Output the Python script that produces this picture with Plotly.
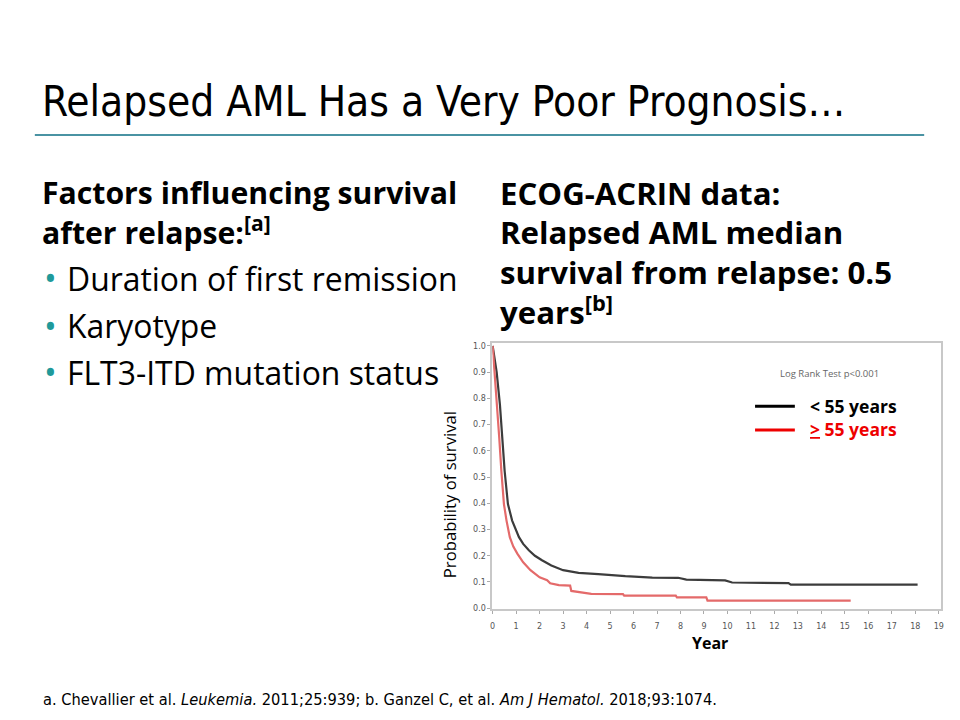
import plotly.graph_objects as go

# ---- data ----
years_lt55 = [0, 0.08, 0.17, 0.31, 0.41, 0.51, 0.65, 0.83, 1.12, 1.3, 1.54, 1.8, 2.1, 2.5, 3.0, 3.66, 4.5, 5.0, 5.65, 6.8, 7.9, 8.25, 9.9, 10.2, 12.6, 12.7, 18.1]
surv_lt55 = [1.0, 0.95, 0.90, 0.775, 0.65, 0.523, 0.397, 0.334, 0.271, 0.245, 0.221, 0.2, 0.183, 0.163, 0.145, 0.135, 0.13, 0.126, 0.122, 0.117, 0.116, 0.109, 0.106, 0.098, 0.096, 0.09, 0.09]

years_ge55 = [0, 0.085, 0.2, 0.28, 0.37, 0.48, 0.59, 0.73, 0.88, 1.05, 1.3, 1.61, 2.0, 2.32, 2.45, 2.82, 3.3, 3.35, 4.2, 5.55, 5.6, 7.8, 7.85, 9.1, 9.15, 15.25]
surv_ge55 = [1.0, 0.90, 0.775, 0.65, 0.523, 0.397, 0.334, 0.271, 0.235, 0.208, 0.175, 0.145, 0.118, 0.107, 0.095, 0.088, 0.086, 0.066, 0.055, 0.054, 0.048, 0.048, 0.041, 0.041, 0.029, 0.029]

x_ticks = list(range(0, 20))
y_ticks = [round(v * 0.1, 1) for v in range(0, 11)]

series_names = ["< 55 years", "<u>></u> 55 years"]
series_colors = ["#3c3c3c", "#e46a6a"]
legend_colors = ["#000000", "#ee0000"]

W, H = 960, 720


def px(x):
    return x / W


def py(y):
    return 1 - y / H


fig = go.Figure()
fig.add_trace(go.Scatter(x=years_lt55, y=surv_lt55, mode="lines",
                         line=dict(color=series_colors[0], width=2.2),
                         showlegend=False, hoverinfo="skip"))
fig.add_trace(go.Scatter(x=years_ge55, y=surv_ge55, mode="lines",
                         line=dict(color=series_colors[1], width=2.2),
                         showlegend=False, hoverinfo="skip"))

body_font = "Open Sans, Noto Sans, sans-serif"
narrow_font = "Liberation Sans Narrow, DejaVu Sans Condensed, sans-serif"

annotations = []


def add_text(text, x, y, size, color="#000000", family=body_font, xanchor="left", bold=False, angle=0):
    if bold:
        text = "<b>" + text + "</b>"
    annotations.append(dict(text=text, x=px(x), y=py(y), xref="paper", yref="paper",
                            xanchor=xanchor, yanchor="middle", showarrow=False,
                            textangle=angle,
                            font=dict(family=family, size=size, color=color)))


# Title
add_text("Relapsed AML Has a Very Poor Prognosis…", 38, 101, 42, family=narrow_font)

# Left heading
add_text("Factors influencing survival", 38, 193, 30.2, bold=True)
add_text("after relapse:<sup>[a]</sup>", 38, 231, 30.2, bold=True)

bullets = ["Duration of first remission", "Karyotype", "FLT3-ITD mutation status"]
bullet_y = [279, 327, 374]
for t, yy in zip(bullets, bullet_y):
    add_text("•", 40, yy, 34, color="#1f9a9a")
    add_text(t, 63, yy, 31.9)

# Right heading
right_lines = ["ECOG-ACRIN data:", "Relapsed AML median", "survival from relapse: 0.5", "years<sup>[b]</sup>"]
right_y = [193, 233, 273, 312]
for t, yy in zip(right_lines, right_y):
    add_text(t, 499, yy, 31.2, bold=True)

# Axis titles
add_text("Probability of survival", 450, 497, 16.7, angle=-90, xanchor="center")
add_text("Year", 712, 646, 16, bold=True, xanchor="center")

# Log rank text
add_text("Log Rank Test p<0.001", 832, 375, 9.5, color="#666666", xanchor="center")

# Legend text
add_text(series_names[0], 810, 408, 17.5, color=legend_colors[0], bold=True)
add_text(series_names[1], 810, 431, 17.5, color=legend_colors[1], bold=True)

# Footnote
add_text("a. Chevallier et al. <i>Leukemia.</i> 2011;25:939; b. Ganzel C, et al. <i>Am J Hematol.</i> 2018;93:1074.",
         39, 703, 16.3, family=narrow_font)

shapes = [
    dict(type="line", xref="paper", yref="paper", x0=px(33), x1=px(927), y0=py(135), y1=py(135),
         line=dict(color="#4a93a3", width=2)),
    dict(type="line", xref="paper", yref="paper", x0=px(757), x1=px(797), y0=py(408), y1=py(408),
         line=dict(color=legend_colors[0], width=3)),
    dict(type="line", xref="paper", yref="paper", x0=px(757), x1=px(797), y0=py(432), y1=py(432),
         line=dict(color=legend_colors[1], width=3)),
]

tick_font = dict(family="DejaVu Sans, sans-serif", size=8, color="#555555")

fig.update_layout(
    width=W, height=H,
    margin=dict(l=0, r=0, t=0, b=0),
    paper_bgcolor="white", plot_bgcolor="white",
    showlegend=False,
    annotations=annotations,
    shapes=shapes,
    xaxis=dict(domain=[px(493), px(944)], range=[-0.01, 19.1],
               tickvals=x_ticks, ticktext=[str(v) for v in x_ticks],
               showgrid=False, zeroline=False,
               showline=True, mirror=True, linecolor="#c8c8c8", linewidth=2,
               ticks="outside", ticklen=3, tickcolor="#aaaaaa",
               ticklabelstandoff=6,
               tickfont=tick_font),
    yaxis=dict(domain=[py(612), py(344)], range=[-0.002, 1.0125],
               tickvals=y_ticks, ticktext=["%.1f" % v for v in y_ticks],
               showgrid=False, zeroline=False,
               showline=True, mirror=True, linecolor="#c8c8c8", linewidth=2,
               ticks="outside", ticklen=3, tickcolor="#aaaaaa",
               tickfont=tick_font),
)

fig.write_html("out.html", config={"displayModeBar": False},
               post_script="document.body.style.margin='0px';")
